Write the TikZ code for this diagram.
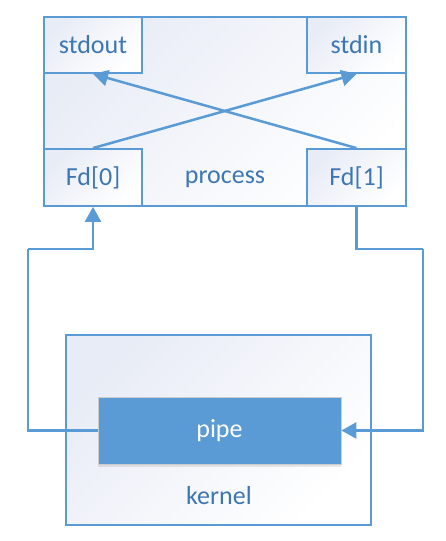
\documentclass[tikz,border=0pt]{standalone}
\usepackage{fontspec}
\setmainfont{Carlito}
\usetikzlibrary{arrows.meta,shadows}
\definecolor{lineblue}{HTML}{5B9BD5}
\definecolor{txtblue}{HTML}{3D77B3}
\definecolor{shadeblue}{HTML}{E8ECF6}
\tikzset{
  box/.style={draw=lineblue, line width=1.8pt, inner sep=0pt, rectangle,
    top color=shadeblue, bottom color=white, shading angle=45,
    text=txtblue, font=\fontsize{26}{30}\selectfont},
  lbl/.style={text=txtblue, font=\fontsize{26}{30}\selectfont, inner sep=0pt},
  conn/.style={draw=lineblue, line width=2.5pt},
  tip/.style={-{Triangle[length=15pt,width=16pt]}}
}
\begin{document}
\begin{tikzpicture}[x=1pt,y=-1pt]
\useasboundingbox (0,0) rectangle (446,541);
% process
\node[box, minimum width=362pt, minimum height=189pt] (proc) at (225,111.5) {};
\node[box, minimum width=98pt, minimum height=56pt] (stdout) at (93,45) {stdout};
\node[box, minimum width=99pt, minimum height=56pt] (stdin) at (356.5,45) {stdin};
\node[box, minimum width=98pt, minimum height=57pt] (fd0) at (93,177.5) {Fd[0]};
\node[box, minimum width=99pt, minimum height=57pt] (fd1) at (356.5,177.5) {Fd[1]};
\node[lbl] (plabel) at (225,179) {process};
% kernel
\node[box, minimum width=305pt, minimum height=190pt] (kern) at (218.5,430) {};
\node[draw=black!20, line width=0.8pt, fill=lineblue, minimum width=243pt, minimum height=67pt,
  text=white, font=\fontsize{26}{30}\selectfont,
  drop shadow={opacity=0.18, shadow xshift=0pt, shadow yshift=-3pt}] (pipe) at (219.5,430.5) {pipe};
\node[lbl] (klabel) at (219,496) {kernel};
% crossing arrows
\draw[conn, tip] (fd0.north) -- (stdin.south);
\draw[conn, tip] (fd1.north) -- (stdout.south);
% loops
\coordinate (l1) at (28,249);
\coordinate (r1) at (423,249);
\draw[conn] (pipe.west) -| (l1);
\draw[conn, tip] (l1) -| (fd0.south);
\draw[conn] (fd1.south) |- (r1);
\draw[conn, tip] (r1) |- (pipe.east);
\end{tikzpicture}
\end{document}
